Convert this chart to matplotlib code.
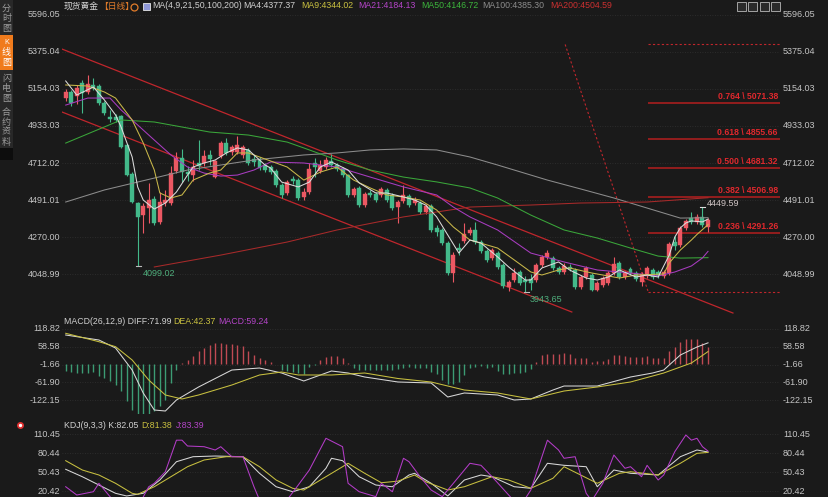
import numpy as np
import matplotlib
matplotlib.use("Agg")
import matplotlib.pyplot as plt
from matplotlib.transforms import blended_transform_factory
from matplotlib.patches import Rectangle
from matplotlib.lines import Line2D

plt.rcParams['font.family'] = ['Liberation Sans', 'Noto Sans CJK SC', 'DejaVu Sans']

# ---- 日线数据 (现货黄金) ----
opens = [5100.3, 5136.1, 5112.2, 5189.9, 5136.1, 5177.9, 5172.0, 5070.4, 4986.8, 4986.8,
         4992.8, 4819.6, 4646.4, 4473.1, 4401.4, 4443.3, 4497.0, 4359.6, 4473.1, 4473.1,
         4664.3, 4741.9, 4658.3, 4640.4, 4712.1, 4712.1, 4759.8, 4628.5, 4753.9, 4831.5,
         4777.7, 4777.7, 4759.8, 4789.7, 4736.0, 4736.0, 4700.1, 4688.2, 4664.3, 4580.7,
         4532.9, 4616.5, 4610.5, 4509.0, 4538.9, 4712.1, 4664.3, 4688.2, 4724.0, 4700.1,
         4676.2, 4640.4, 4520.9, 4562.7, 4461.2, 4532.9, 4526.9, 4520.9, 4550.8, 4520.9,
         4449.2, 4485.1, 4515.0, 4473.1, 4473.1, 4419.4, 4455.2, 4323.8, 4311.9, 4234.2,
         4055.0, 4204.4, 4246.2, 4294.0, 4311.9, 4240.2, 4186.4, 4144.6, 4174.5, 4102.8,
         3971.4, 4013.2, 4061.0, 4013.2, 4019.2, 4013.2, 4102.8, 4150.6, 4144.6, 4084.9,
         4061.0, 4090.9, 4072.9, 3971.4, 4031.1, 4043.1, 3953.5, 3983.4, 3995.3, 4055.0,
         4114.8, 4031.1, 4078.9, 4055.0, 4001.3, 4037.1, 4072.9, 4061.0, 4037.1, 4055.0,
         4240.2, 4222.3, 4323.8, 4383.5, 4359.6, 4389.5, 4329.8]
closes = [5136.1, 5070.4, 5160.0, 5130.2, 5183.9, 5160.0, 5070.4, 5010.7, 4974.9, 4968.9,
          4807.6, 4640.4, 4479.1, 4389.5, 4455.2, 4491.0, 4353.7, 4479.1, 4491.0, 4652.3,
          4741.9, 4658.3, 4646.4, 4688.2, 4694.2, 4753.9, 4736.0, 4724.0, 4831.5, 4771.8,
          4807.6, 4819.6, 4807.6, 4712.1, 4718.0, 4682.2, 4670.3, 4658.3, 4580.7, 4520.9,
          4598.6, 4604.6, 4503.0, 4538.9, 4676.2, 4688.2, 4700.1, 4730.0, 4700.1, 4676.2,
          4640.4, 4520.9, 4556.8, 4461.2, 4526.9, 4520.9, 4491.0, 4556.8, 4491.0, 4443.3,
          4479.1, 4520.9, 4461.2, 4491.0, 4419.4, 4455.2, 4311.9, 4299.9, 4234.2, 4055.0,
          4162.5, 4192.4, 4288.0, 4311.9, 4240.2, 4186.4, 4132.7, 4192.4, 4090.9, 3977.4,
          4001.3, 4055.0, 3995.3, 4001.3, 3995.3, 4102.8, 4150.6, 4174.5, 4084.9, 4061.0,
          4096.8, 4078.9, 3971.4, 4031.1, 4084.9, 3953.5, 3995.3, 4025.2, 4055.0, 4108.8,
          4031.1, 4055.0, 4055.0, 4019.2, 4049.1, 4084.9, 4031.1, 4037.1, 4061.0, 4228.3,
          4216.3, 4323.8, 4365.6, 4359.6, 4389.5, 4341.7, 4371.6]
highs = [5154.0, 5148.1, 5177.9, 5207.8, 5237.7, 5219.8, 5183.9, 5082.4, 5028.6, 5004.7,
         4998.8, 4825.5, 4658.3, 4479.1, 4473.1, 4592.6, 4515.0, 4538.9, 4550.8, 4694.2,
         4777.7, 4795.7, 4694.2, 4730.0, 4849.4, 4789.7, 4789.7, 4730.0, 4843.4, 4861.4,
         4819.6, 4873.3, 4819.6, 4801.6, 4759.8, 4747.9, 4712.1, 4700.1, 4676.2, 4592.6,
         4610.5, 4634.4, 4622.5, 4562.7, 4712.1, 4741.9, 4730.0, 4747.9, 4765.8, 4712.1,
         4688.2, 4646.4, 4568.7, 4574.7, 4538.9, 4550.8, 4538.9, 4568.7, 4562.7, 4532.9,
         4491.0, 4580.7, 4526.9, 4509.0, 4485.1, 4467.1, 4467.1, 4341.7, 4323.8, 4246.2,
         4180.5, 4234.2, 4353.7, 4329.8, 4359.6, 4252.1, 4198.4, 4204.4, 4186.4, 4114.8,
         4013.2, 4084.9, 4072.9, 4037.1, 4049.1, 4114.8, 4162.5, 4192.4, 4156.6, 4096.8,
         4114.8, 4108.8, 4084.9, 4043.1, 4096.8, 4055.0, 4007.3, 4037.1, 4067.0, 4150.6,
         4126.7, 4067.0, 4090.9, 4067.0, 4061.0, 4096.8, 4084.9, 4072.9, 4072.9, 4240.2,
         4276.0, 4335.8, 4377.5, 4419.4, 4407.4, 4449.59, 4383.5]
lows = [5082.4, 5052.5, 5064.5, 5010.7, 5124.2, 5148.1, 5058.5, 4998.8, 4956.9, 4956.9,
        4801.6, 4634.4, 4473.1, 4099.02, 4294.0, 4353.7, 4341.7, 4347.7, 4455.2, 4461.2,
        4652.3, 4598.6, 4604.6, 4604.6, 4670.3, 4694.2, 4700.1, 4622.5, 4741.9, 4759.8,
        4759.8, 4765.8, 4741.9, 4700.1, 4694.2, 4670.3, 4658.3, 4646.4, 4568.7, 4503.0,
        4520.9, 4586.6, 4491.0, 4491.0, 4526.9, 4628.5, 4652.3, 4676.2, 4688.2, 4664.3,
        4628.5, 4509.0, 4509.0, 4449.2, 4449.2, 4509.0, 4479.1, 4509.0, 4479.1, 4431.3,
        4353.7, 4473.1, 4449.2, 4461.2, 4407.4, 4407.4, 4299.9, 4276.0, 4222.3, 4043.1,
        4001.3, 4162.5, 4234.2, 4282.0, 4228.3, 4174.5, 4120.7, 4132.7, 4078.9, 3965.4,
        3947.5, 4001.3, 3983.4, 3943.65, 3953.5, 4001.3, 4090.9, 4138.7, 4072.9, 4049.1,
        4049.1, 4067.0, 3959.5, 3959.5, 4019.2, 3947.5, 3947.5, 3971.4, 3983.4, 4043.1,
        4019.2, 4019.2, 4043.1, 4007.3, 3977.4, 4025.2, 4019.2, 4025.2, 4025.2, 4043.1,
        4192.4, 4210.3, 4311.9, 4347.7, 4347.7, 4329.8, 4299.9]

# 均线 (读图取样点: 序号, 数值)
ma4_idx = [0, 2, 5, 7, 9, 10, 12, 13, 14, 16, 18, 20, 22, 23, 25, 27, 29, 31, 33, 34,
           36, 37, 39, 42, 44, 46, 48, 51, 53, 56, 58, 61, 63, 65, 67, 69, 71, 73, 75, 78,
           80, 83, 84, 86, 89, 91, 94, 96, 98, 100, 103, 105, 107, 108, 109, 110, 111, 112, 113, 115, 116]
ma4_val = [5202, 5118, 5166, 5088, 4999, 4927, 4748, 4569, 4491, 4437, 4473, 4539, 4640, 4688, 4712, 4730, 4772, 4802, 4790, 4760,
           4700, 4682, 4598, 4569, 4598, 4688, 4718, 4670, 4593, 4533, 4533, 4509, 4491, 4461, 4390, 4282, 4174, 4252, 4234, 4151,
           4091, 4013, 4013, 4085, 4121, 4073, 4025, 4013, 4031, 4073, 4031, 4043, 4031, 4097, 4162, 4270, 4324, 4354, 4366, 4360, 4377.37]
ma9_idx = [0, 4, 7, 9, 12, 14, 16, 17, 19, 21, 23, 26, 28, 31, 33, 35, 40, 43, 46, 49, 52, 55, 58, 61, 64, 67, 70, 73,
           78, 81, 84, 86, 89, 91, 95, 100, 103, 108, 109, 111, 113, 114, 116]
ma9_val = [5178, 5172, 5136, 5100, 4969, 4832, 4670, 4533, 4503, 4521, 4610, 4652, 4670, 4772, 4772, 4748, 4688, 4610, 4658,
           4688, 4610, 4563, 4521, 4509, 4491, 4431, 4330, 4252, 4204, 4133, 4061, 4043, 4073, 4085, 4055, 4025, 4043, 4049,
           4115, 4192, 4252, 4285, 4344.02]
ma21_idx = [0, 4, 8, 10, 13, 16, 19, 22, 25, 28, 31, 34, 37, 43, 49, 55, 61, 67, 70, 73,
            78, 84, 90, 96, 102, 107, 110, 113, 115, 116]
ma21_val = [5058, 5100, 5100, 5029, 4939, 4849, 4760, 4688, 4652, 4634, 4640, 4670, 4718, 4712, 4688, 4628, 4569, 4521, 4449, 4390,
            4312, 4174, 4121, 4073, 4055, 4037, 4061, 4097, 4145, 4184.13]
ma50_idx = [0, 10, 16, 26, 33, 40, 43, 49, 55, 61, 67, 73, 78, 84, 90, 96, 102, 107, 111, 116]
ma50_val = [4831, 4969, 4957, 4897, 4879, 4837, 4802, 4730, 4670, 4628, 4599, 4563, 4503, 4401, 4312, 4264, 4204, 4156, 4144, 4146.72]
ma100_idx = [0, 7, 16, 22, 28, 34, 43, 49, 55, 61, 67, 73, 78, 87, 93, 99, 105, 111, 116]
ma100_val = [4479, 4551, 4622, 4670, 4700, 4730, 4760, 4772, 4790, 4796, 4790, 4748, 4700, 4610, 4557, 4503, 4443, 4383, 4385.30]
ma200_idx = [16, 28, 40, 49, 61, 73, 84, 93, 105, 116]
ma200_val = [4091, 4162, 4240, 4312, 4390, 4449, 4461, 4473, 4479, 4504.59]

# 画线工具
upper_line_x, upper_line_y = [-0.7, 120.5], [5393, 3816]
lower_line_x, lower_line_y = [-0.7, 91.4], [5017, 3822]
fib_ratios = [0.236, 0.382, 0.500, 0.618, 0.764]
fib_prices = [4291.26, 4506.98, 4681.32, 4855.66, 5071.38]
fib_top, fib_bottom = 5420.05, 3942.59
fib_start, fib_end = 90.2, 105.2

# MACD
macd_hist = [-24.8, -28.2, -30.5, -30.5, -30.5, -28.2, -39.5, -47.4, -58.7, -69.9,
             -92.5, -126.3, -154.5, -177.1, -182.7, -177.1, -160.2, -143.3, -120.7, -64.3,
             -19.2, 3.4, 14.7, 28.2, 42.9, 54.1, 65.4, 71.1, 71.1, 68.8,
             68.8, 65.4, 62.0, 45.1, 31.6, 20.3, 12.4, 5.6, 1.1, -19.2,
             -24.8, -28.2, -30.5, -32.7, -10.2, -2.3, 12.4, 22.6, 28.2, 28.2,
             20.3, 3.4, -13.5, -19.2, -21.4, -21.4, -19.2, -21.4, -19.2, -21.4,
             -16.9, -13.5, -10.2, -13.5, -12.4, -12.4, -27.1, -35.0, -55.3, -68.8,
             -68.8, -60.9, -38.4, -12.4, -10.2, -7.9, -12.4, -10.2, -23.7, -35.0,
             -35.0, -30.5, -30.5, -27.1, -15.8, 6.8, 29.3, 35.0, 35.0, 35.0,
             37.2, 35.0, 20.3, 20.3, 20.3, 6.8, 9.0, 9.0, 18.0, 29.3,
             29.3, 25.9, 23.7, 23.7, 23.7, 27.1, 21.4, 20.3, 21.4, 44.0,
             58.0, 76.0, 86.0, 86.0, 84.0, 72.0, 59.24]
diff_idx = [0, 6, 9, 12, 14, 16, 18, 20, 24, 30, 35, 39, 43, 48, 51, 54, 60, 66, 69, 72,
            78, 81, 84, 88, 90, 96, 100, 102, 106, 108, 111, 114, 116]
diff_val = [98.5, 81.6, 54.5, -20.0, -97.8, -155.3, -158.7, -121.4, -77.4, -20.0, -13.2, -30.1, -57.1, -23.3, -30.1, -43.6,
            -60.5, -63.9, -111.3, -97.7, -104.5, -121.4, -118.0, -87.6, -74.1, -74.1, -53.8, -43.6, -30.1, -20.0, 30.8, 57.8, 71.99]
dea_idx = [0, 6, 9, 12, 15, 18, 21, 24, 30, 35, 39, 42, 48, 54, 60, 66, 72, 78, 84, 90, 96, 102, 108, 113, 116]
dea_val = [104.3, 75.8, 59.0, 14.0, -53.8, -104.5, -118.0, -104.5, -70.7, -36.8, -26.7, -36.8, -36.8, -30.1, -48.7,
           -60.5, -87.6, -97.7, -118.0, -91.0, -77.4, -60.5, -30.1, 3.8, 42.37]

# KDJ
k_idx = [0, 3, 6, 9, 11, 14, 17, 20, 23, 27, 32, 35, 38, 41, 44, 47, 48, 50, 53, 56,
         59, 62, 63, 66, 69, 72, 75, 77, 81, 84, 87, 90, 94, 96, 99, 102, 107, 111, 114, 116]
k_val = [54.7, 43.0, 29.9, 16.8, 12.6, 16.8, 37.8, 66.7, 74.6, 75.7, 74.6, 48.4, 27.2, 19.3, 27.2, 56.3, 72.1, 68.3, 43.0, 29.9,
         27.2, 45.7, 48.4, 32.6, 12.6, 37.8, 45.7, 43.0, 27.2, 24.7, 64.2, 61.0, 58.8, 27.2, 53.6, 48.4, 45.7, 74.6, 85.2, 82.05]
d_idx = [0, 3, 6, 9, 12, 13, 16, 19, 22, 25, 29, 32, 35, 38, 41, 43, 46, 50, 51, 54,
         57, 60, 63, 65, 69, 72, 77, 80, 84, 88, 90, 96, 100, 102, 107, 111, 114, 116]
d_val = [68.3, 53.6, 45.7, 32.6, 16.8, 15.2, 27.2, 43.0, 58.8, 69.4, 74.6, 74.6, 58.8, 37.8, 24.7, 22.0, 37.8, 58.8, 64.2, 48.4,
         33.5, 36.0, 45.7, 35.1, 22.0, 27.2, 43.0, 37.8, 24.7, 40.5, 58.8, 32.6, 48.4, 50.9, 45.7, 64.2, 79.9, 81.38]
j_idx = [0, 2, 5, 6, 8, 10, 13, 15, 16, 18, 20, 21, 22, 25, 27, 28, 30, 32, 34, 35,
         39, 42, 44, 47, 50, 51, 53, 56, 57, 59, 61, 62, 64, 66, 68, 71, 73, 75, 77, 80,
         82, 84, 87, 89, 90, 92, 94, 95, 97, 99, 101, 102, 104, 105, 107, 108, 110, 112, 113, 114, 115, 116]
j_val = [27.2, 14.1, 19.3, 32.6, 11.5, -5, -5, 27.2, 32.6, 50.9, 100.7, 100.7, 91.5, 90.4, 85.2, 90.4, 74.6, 74.6, 27.2, 6.3,
         -5, 29.9, 53.6, 103.7, 90.4, 32.6, 19.3, 11.5, 32.6, 19.3, 72.1, 66.7, 43.0, 22.0, 11.5, 43.0, 64.2, 61.0, 43.0, 14.1,
         -5, 22.0, 100.7, 85.2, 72.1, 74.6, 16.8, 5.0, 32.6, 77.3, 56.3, 58.8, 43.0, 61.0, 37.8, 45.7, 82.5, 108.9, 100.7, 103.7, 90.4, 83.39]

price_ticks = [5596.05, 5375.04, 5154.03, 4933.03, 4712.02, 4491.01, 4270.00, 4048.99]
macd_ticks = [118.82, 58.58, -1.66, -61.90, -122.15]
kdj_ticks = [110.45, 80.44, 50.43, 20.42]

# ---- 颜色 ----
BG = '#1a1a1a'
TXT = '#c4c4c4'
GRID = '#323232'
UP, DOWN = '#ec5863', '#43b98a'
C_MA4, C_MA9, C_MA21 = '#dcdcdc', '#c9b84a', '#a83cc0'
C_MA50, C_MA100, C_MA200 = '#3aa63a', '#8c8c8c', '#a82a2a'
RED_LINE = '#c0262c'
FIB_RED = '#e0282d'
LW = 0.75

W, H = 829, 497
fig = plt.figure(figsize=(W / 100, H / 100), dpi=100, facecolor=BG)

def fx(px):
    return px / W

def fy(py):
    return 1 - py / H

x_left, x_right = -0.668, 129.0
ax = fig.add_axes([fx(62), fy(314), 718 / W, 300 / H])
ax2 = fig.add_axes([fx(62), fy(414), 718 / W, 92 / H])
ax3 = fig.add_axes([fx(62), 0, 718 / W, 67 / H])
ax.set_ylim(3810.1, 5602.0)
ax2.set_ylim(-168.8, 142.5)
ax3.set_ylim(10.97, 116.77)
for a in (ax, ax2, ax3):
    a.set_xlim(x_left, x_right)
    a.set_facecolor(BG)
    a.axis('off')


def axis_labels(a, ticks, fmt):
    tr = blended_transform_factory(fig.transFigure, a.transData)
    for v in ticks:
        a.axhline(v, color=GRID, lw=0.6, ls=(0, (1, 2)), zorder=0)
        a.text(fx(60), v, fmt.format(v), transform=tr, ha='right', va='center',
               color=TXT, fontsize=6.5, clip_on=False)
        a.text(fx(783), v, fmt.format(v), transform=tr, ha='left', va='center',
               color=TXT, fontsize=6.5, clip_on=False)


axis_labels(ax, price_ticks, '{:.2f}')
axis_labels(ax2, macd_ticks, '{:.2f}')
axis_labels(ax3, kdj_ticks, '{:.2f}')

# ---- K线 ----
o = np.array(opens); c = np.array(closes); h = np.array(highs); l = np.array(lows)
x = np.arange(len(o))
cols = np.where(c >= o, UP, DOWN)
ax.vlines(x, l, h, colors=cols, lw=0.8, zorder=3)
body_h = np.maximum(np.abs(c - o), 2.5)
ax.bar(x, body_h, bottom=np.minimum(o, c), width=0.72, color=cols, edgecolor=cols, lw=0.3, zorder=4)

# 均线
for idx, val, col in [(ma100_idx, ma100_val, C_MA100), (ma200_idx, ma200_val, C_MA200),
                      (ma50_idx, ma50_val, C_MA50), (ma21_idx, ma21_val, C_MA21),
                      (ma9_idx, ma9_val, C_MA9), (ma4_idx, ma4_val, C_MA4)]:
    ax.plot(idx, val, color=col, lw=LW, zorder=5)

# 通道线
ax.plot(upper_line_x, upper_line_y, color=RED_LINE, lw=0.9, zorder=2)
ax.plot(lower_line_x, lower_line_y, color=RED_LINE, lw=0.9, zorder=2)

# 黄金分割
ax.plot([fib_start, fib_end], [fib_top, fib_bottom], color=RED_LINE, lw=0.8, ls=(0, (2, 2)), zorder=2)
ax.hlines([fib_top, fib_bottom], fib_end, x_right, colors=RED_LINE, lw=0.8, linestyles=(0, (2, 2)), zorder=2)
ax.hlines(fib_prices, fib_end, x_right, colors='#b41e1e', lw=1.1, zorder=2)
trf = blended_transform_factory(ax.transAxes, ax.transData)
for r, p in zip(fib_ratios, fib_prices):
    ax.annotate(f'{r:.3f} \\ {p:.2f}', xy=(0.997, p), xycoords=trf, xytext=(0, 1.5),
                textcoords='offset points', ha='right', va='bottom', color=FIB_RED,
                fontsize=6.2, fontweight='bold', zorder=6)

# 高低点标注
i_low1 = int(np.argmin(l[:40]))
i_low2 = int(np.argmin(l))
i_high = 80 + int(np.argmax(h[80:]))
for i in (i_low1, i_low2):
    ax.plot([i - 0.3, i + 0.6], [l[i], l[i]], color='#bbbbbb', lw=0.8, zorder=6)
    ax.annotate(f'{l[i]:.2f}', xy=(i + 0.6, l[i]), xytext=(1, -6), textcoords='offset points',
                ha='left', va='center', color='#4fae7c', fontsize=6.5, zorder=6)
ax.plot([i_high - 0.4, i_high + 0.4], [h[i_high], h[i_high]], color='#dddddd', lw=0.8, zorder=6)
ax.annotate(f'{h[i_high]:.2f}', xy=(i_high + 0.6, h[i_high]), xytext=(1, 2.5), textcoords='offset points',
            ha='left', va='center', color='#cfc4c4', fontsize=6.5, zorder=6)

# ---- MACD ----
hist = np.array(macd_hist)
ax2.vlines(x, 0, hist, colors=np.where(hist >= 0, '#c04a53', '#3c9c74'), lw=1.0, zorder=2)
ax2.plot(diff_idx, diff_val, color='#d8d8d8', lw=LW, zorder=3)
ax2.plot(dea_idx, dea_val, color='#c8c040', lw=LW, zorder=3)

# ---- KDJ ----
ax3.plot(k_idx, k_val, color='#d8d8d8', lw=LW, zorder=3)
ax3.plot(d_idx, d_val, color='#c8c040', lw=LW, zorder=3)
ax3.plot(j_idx, j_val, color='#b43cc8', lw=LW, zorder=3)

# ---- 标题行 ----
def head(px, py, s, col, size=6.3):
    fig.text(fx(px), fy(py), s, color=col, fontsize=size, ha='left', va='center')

head(64, 6, '现货黄金', '#d6d6d6')
head(99, 6, '【日线】', '#e07b2a')
fig.add_artist(Line2D([fx(134.5)], [fy(6.5)], marker='o', ms=5, mfc='none', mec='#e07b2a', mew=0.9,
                      transform=fig.transFigure))
fig.add_artist(Rectangle((fx(143), fy(10)), 7 / W, 7 / H, facecolor='#8f98d8', edgecolor='#e8e8e8',
                         lw=0.6, transform=fig.transFigure))
head(152, 6, 'MA(4,9,21,50,100,200)', '#d0d0d0')
head(243, 6, 'MA4:4377.37', '#d0d0d0')
head(301, 6, 'MA9:4344.02', '#c9c040')
head(358, 6, 'MA21:4184.13', '#b444c8')
head(421, 6, 'MA50:4146.72', '#3cb43c')
head(482, 6, 'MA100:4385.30', '#8c8c8c')
head(550, 6, 'MA200:4504.59', '#cc3030')

head(64, 321, 'MACD(26,12,9) DIFF:71.99', '#d0d0d0')
head(173, 321, 'DEA:42.37', '#c9c040')
head(218, 321, 'MACD:59.24', '#b444c8')
head(64, 426, 'KDJ(9,3,3) K:82.05', '#d0d0d0')
head(141, 426, 'D:81.38', '#c9c040')
head(176, 426, 'J:83.39', '#b444c8')
fig.add_artist(Line2D([fx(20)], [fy(425)], marker='o', ms=4, mfc='#e03030', mec='#e03030',
                      transform=fig.transFigure))
fig.add_artist(Line2D([fx(20)], [fy(425)], marker='o', ms=1.4, mfc='white', mec='white',
                      transform=fig.transFigure))

# 右上角按钮
for bx in [737, 748, 760, 771]:
    fig.add_artist(Rectangle((fx(bx), fy(11)), 9 / W, 9 / H, facecolor='#2a2a2a', edgecolor='#b8b8b8',
                             lw=0.6, transform=fig.transFigure))

# ---- 左侧标签栏 ----
fig.add_artist(Rectangle((0, fy(148)), 13 / W, 148 / H, facecolor='#282828', edgecolor='none',
                         transform=fig.transFigure))
fig.add_artist(Rectangle((0, fy(70)), 13 / W, 35 / H, facecolor='#f07b1c', edgecolor='none',
                         transform=fig.transFigure))
fig.add_artist(Rectangle((0, fy(160)), 13 / W, 12 / H, facecolor='#0d0d0d', edgecolor='none',
                         transform=fig.transFigure))
tabs = [('分时图', [8, 19, 29], '#9c9c9c'), ('K线图', [42, 53, 63], '#ffffff'),
        ('闪电图', [78, 88, 98], '#9c9c9c'), ('合约资料', [112, 122, 132, 142], '#9c9c9c')]
for word, ys, col in tabs:
    for ch, yy in zip(word, ys):
        fig.text(fx(6.5), fy(yy), ch, color=col, fontsize=6.5 if ch != 'K' else 5.2,
                 ha='center', va='center')

fig.savefig('out.png', dpi=100, facecolor=BG)
